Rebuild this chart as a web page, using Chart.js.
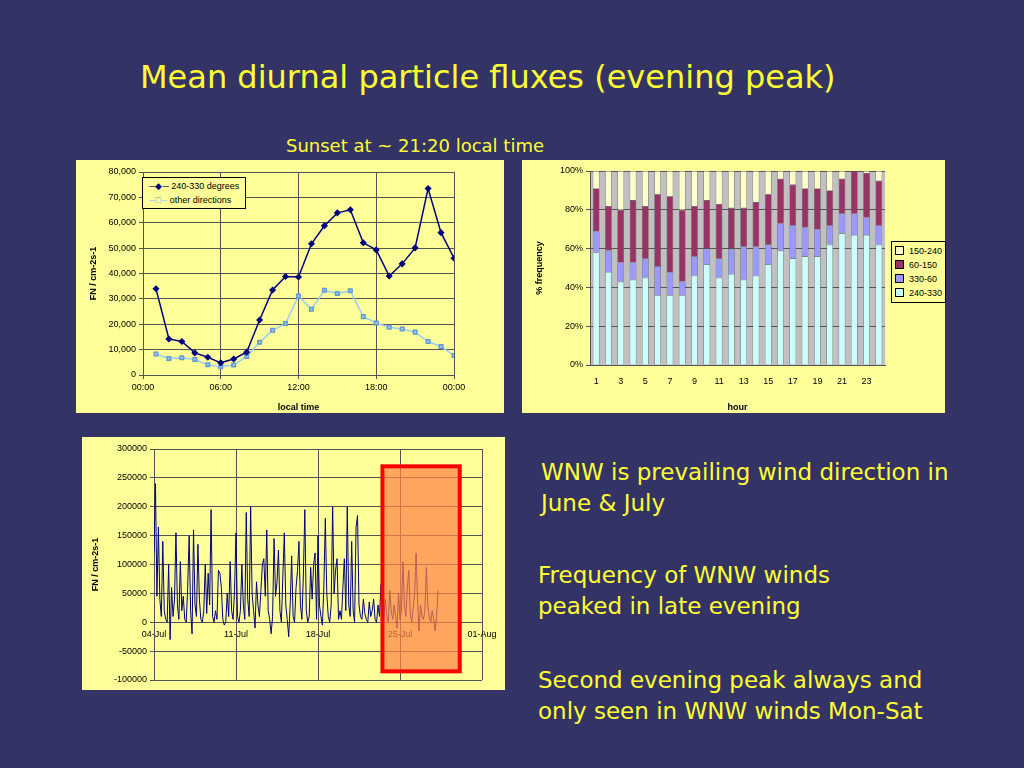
<!DOCTYPE html>
<html><head><meta charset="utf-8">
<script src="https://cdn.jsdelivr.net/npm/chart.js@4"></script>
<style>
body{margin:0;width:1024px;height:768px;background:#333366;overflow:hidden;font-family:"DejaVu Sans",sans-serif;position:relative}
.t{position:absolute;color:#ffff33;white-space:nowrap}
.panel{position:absolute;background:#ffff99}
.lg{position:absolute;font:9px "Liberation Sans",Arial;color:#000;background:#ffff99;border:1px solid #000;padding:2px 4px;line-height:14px}
.lg i{display:inline-block;width:7px;height:7px;border:1px solid #000;margin-right:5px;vertical-align:-1px}
</style></head><body>
<div class="t" style="left:140px;top:58px;font-size:32px">Mean diurnal particle fluxes (evening peak)</div>
<div class="t" style="left:286px;top:135px;font-size:18px">Sunset at ~ 21:20 local time</div>
<div class="panel" style="left:76px;top:160px;width:428px;height:253px"><canvas id="c1" width="428" height="253"></canvas></div>
<div class="panel" style="left:522px;top:160px;width:423px;height:253px"><canvas id="c2" width="423" height="253"></canvas></div>
<div class="panel" style="left:82px;top:437px;width:423px;height:253px"><canvas id="c3" width="423" height="253"></canvas></div>
<div class="lg" style="left:142px;top:177px;padding:1px 6px;line-height:14px">
<div><span style="color:#000080">&#x2500;&#x25C6;&#x2500;</span> 240-330 degrees</div>
<div><span style="color:#99ccff">&#x2500;<span style="color:#6699cc">&#x25A1;</span>&#x2500;</span> other directions</div></div>
<div class="lg" style="left:891px;top:241px;padding:2px 3px">
<div><i style="background:#ffffcc"></i>150-240</div><div><i style="background:#993366"></i>60-150</div>
<div><i style="background:#9999ff"></i>330-60</div><div><i style="background:#ccffff"></i>240-330</div></div>
<div class="t" style="left:541px;top:457px;font-size:23px;line-height:31px">WNW is prevailing wind direction in<br>June &amp; July</div>
<div class="t" style="left:538px;top:560px;font-size:23px;line-height:31px">Frequency of WNW winds<br>peaked in late evening</div>
<div class="t" style="left:538px;top:665px;font-size:23px;line-height:31px">Second evening peak always and<br>only seen in WNW winds Mon-Sat</div>
<script>
// diurnal means, hours 1..24
const hours = [1,2,3,4,5,6,7,8,9,10,11,12,13,14,15,16,17,18,19,20,21,22,23,24];
const fluxWNW = [34000,14200,13200,8700,7000,4800,6300,9000,21700,33500,38800,38600,51700,58800,63900,65100,52100,49300,39000,43800,50100,73500,56100,46000];
const fluxOther = [8300,6500,6800,6100,4000,3300,3900,7300,12900,17600,20300,31100,25900,33400,32100,33200,23000,20500,18800,18100,16900,13200,11200,7700];
const hourTicks = ['00:00','06:00','12:00','18:00','00:00'];

// % frequency by sector
const pct240_330 = [58,48,43,44,45,36,36,36,46,52,45,47,44,46,52,59,55,56,56,62,68,67,67,62];
const pct330_60 = [11,11,10,9,10,15,12,7,10,8,10,13,17,15,10,14,17,15,14,10,10,11,9,10];
const pct60_150 = [22,23,27,32,27,37,39,37,26,25,28,21,20,23,26,23,21,20,21,18,18,22,23,23];
const pct150_240 = [9,18,20,15,18,12,13,20,18,15,17,19,19,16,12,4,7,9,9,10,4,0,1,5];

// time series, 3-hourly, thousands cm-2 s-1, starting 04-Jul 00:00
const seriesStartDay = 4;
const seriesK = [
120,240,45,165,40,10,140,20, 5,0,100,-30,60,10,40,155, 30,5,105,20,45,5,0,60,
150,20,-20,160,30,10,135,40, 5,0,20,100,15,85,30,195, 10,0,20,5,90,85,60,5,
-5,0,50,10,105,20,5,55, 155,10,0,20,100,30,5,190, 40,10,200,50,20,-10,70,30,
10,55,100,110,45,160,20,5, -20,10,145,45,70,125,20,0, 80,155,30,5,-25,30,115,10,
0,60,90,140,30,5,80,195, 20,0,10,95,40,100,120,5, 150,30,10,-5,60,180,50,10,
0,30,200,50,90,110,5,20, 5,60,110,20,200,30,10,140, 20,0,165,185,30,10,5,40,
15,5,0,35,10,20,40,5, 0,30,10,65,20,5,40,10, 0,55,20,5,30,10,-10,50,
5,20,105,30,10,60,90,15, 0,25,50,120,40,-15,30,10, 5,20,95,30,10,0,20,5, -15,10,55];
const dayTicks = {4:'04-Jul',11:'11-Jul',18:'18-Jul',25:'25-Jul',32:'01-Aug'};
const box = {x0:23.5, x1:30.1, y0:-85, y1:270};

Chart.defaults.font.family = '"Liberation Sans", Arial, sans-serif';
Chart.defaults.font.size = 9;
Chart.defaults.color = '#000';
Chart.defaults.animation = false;

const fixW = w => ({afterFit(a){a.width = w;}});
const fixH = h => ({afterFit(a){a.height = h;}});
const grid = {color:'#555', lineWidth:1, drawTicks:true, tickLength:4};

new Chart(document.getElementById('c1'), {
  type: 'line',
  data: { datasets: [
    {data: hours.map((h,i)=>({x:h,y:fluxWNW[i]})), borderColor:'#000080', backgroundColor:'#000080', borderWidth:1.5, pointStyle:'rectRot', pointRadius:2.5},
    {data: hours.map((h,i)=>({x:h,y:fluxOther[i]})), borderColor:'#99ccff', backgroundColor:'#99ccff', pointBorderColor:'#6699cc', borderWidth:1.5, pointStyle:'rect', pointRadius:2.5}
  ]},
  options: { responsive:false, layout:{padding:{top:12,right:50,left:8}}, plugins:{legend:{display:false}, tooltip:{enabled:false}},
    scales: {
      x: {type:'linear', min:0, max:24, ...fixH(38), grid, border:{color:'#555'}, ticks:{stepSize:6, callback:(v)=>hourTicks[v/6]},
          title:{display:true, text:'local time', font:{weight:'bold'}, padding:0}},
      y: {min:0, max:80000, ...fixW(59), grid, border:{color:'#555'}, ticks:{stepSize:10000},
          title:{display:true, text:'FN / cm-2s-1', font:{weight:'bold'}}}
    }}
});

new Chart(document.getElementById('c2'), {
  type: 'bar',
  data: { labels: hours, datasets: [
    {label:'240-330', data:pct240_330, backgroundColor:'#ccffff'},
    {label:'330-60', data:pct330_60, backgroundColor:'#9999ff'},
    {label:'60-150', data:pct60_150, backgroundColor:'#993366'},
    {label:'150-240', data:pct150_240, backgroundColor:'#ffffcc'}
  ].map(d=>({...d, borderColor:'#555', borderWidth:0.6, barPercentage:0.55, categoryPercentage:1}))},
  options: { responsive:false, layout:{padding:{top:11,right:60,left:8}}, plugins:{legend:{display:false}, tooltip:{enabled:false}},
    scales: {
      x: {stacked:true, ...fixH(48), grid:{display:false}, border:{color:'#555'}, ticks:{autoSkip:false, maxRotation:0, callback:(v,i)=>i%2===0?hours[i]:''},
          title:{display:true, text:'hour', font:{weight:'bold'}, padding:0}},
      y: {stacked:true, min:0, max:100, ...fixW(60), grid, border:{color:'#555'}, ticks:{stepSize:20, callback:v=>v+'%'},
          title:{display:true, text:'% frequency', font:{weight:'bold'}}}
    }},
  plugins:[{id:'bg', beforeDraw(c){const a=c.chartArea, x=c.ctx; x.fillStyle='#c0c0c0'; x.fillRect(a.left,a.top,a.right-a.left,a.bottom-a.top);}}]
});

new Chart(document.getElementById('c3'), {
  type: 'line',
  data: { datasets: [{data: seriesK.map((v,i)=>({x:seriesStartDay+i/8, y:v})), borderColor:'#000080', borderWidth:1, pointRadius:0, tension:0}]},
  options: { responsive:false, layout:{padding:{top:12,right:23,left:4,bottom:10}}, plugins:{legend:{display:false}, tooltip:{enabled:false}},
    scales: {
      x: {type:'linear', min:4, max:32, position:{y:0}, grid, border:{color:'#555'}, ticks:{stepSize:7, callback:v=>dayTicks[v]}},
      y: {min:-100, max:300, ...fixW(68), grid, border:{color:'#555'}, ticks:{stepSize:50, callback:v=>String(v*1000)},
          title:{display:true, text:'FN / cm-2s-1', font:{weight:'bold'}}}
    }},
  plugins:[{id:'box', afterDatasetsDraw(c){const x=c.scales.x, y=c.scales.y, g=c.ctx;
    const l=x.getPixelForValue(box.x0), r=x.getPixelForValue(box.x1), t=y.getPixelForValue(box.y1), b=y.getPixelForValue(box.y0);
    g.save(); g.fillStyle='rgba(255,130,70,0.72)'; g.fillRect(l,t,r-l,b-t); g.strokeStyle='#ff0000'; g.lineWidth=4; g.strokeRect(l,t,r-l,b-t); g.restore();}}]
});
</script>
</body></html>
